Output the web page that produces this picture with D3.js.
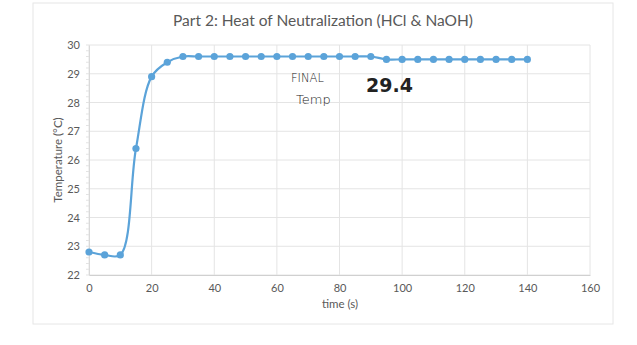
<html>
<title>Heat of Neutralization</title>
<script src="https://d3js.org/d3.v7.min.js"></script>
<style>
body { margin: 0; background: #fff; }
text { font-family: Lato, "Open Sans", sans-serif; }
</style>
<body>
<svg id="chart" width="637" height="345"></svg>
<script>

var times = [0, 5, 10, 15, 20, 25, 30, 35, 40, 45, 50, 55, 60, 65, 70, 75, 80, 85, 90,
	95, 100, 105, 110, 115, 120, 125, 130, 135, 140];
var temps = [22.8, 22.7, 22.7, 26.4, 28.9, 29.4, 29.6, 29.6, 29.6, 29.6, 29.6, 29.6, 29.6,
	29.6, 29.6, 29.6, 29.6, 29.6, 29.6, 29.5, 29.5, 29.5, 29.5, 29.5, 29.5, 29.5, 29.5, 29.5, 29.5];
var xTicks = [0, 20, 40, 60, 80, 100, 120, 140, 160];
var yTicks = [22, 23, 24, 25, 26, 27, 28, 29, 30];

var svg = d3.select("#chart");
var grey = "#595959";

// chart frame
svg.append("rect").attr("x", 33).attr("y", 3).attr("width", 580).attr("height", 321)
	.attr("fill", "#fff").attr("stroke", "#e6e6e6");

var x = d3.scaleLinear().domain([0, 160]).range([89, 590]);
var y = d3.scaleLinear().domain([22, 30]).range([275, 45]);

// gridlines
svg.selectAll("line.hgrid").data(yTicks).enter().append("line").attr("class", "hgrid")
	.attr("x1", x(0)).attr("x2", x(160))
	.attr("y1", function (d) { return y(d); }).attr("y2", function (d) { return y(d); })
	.attr("stroke", "#e4e4e4").attr("stroke-width", 1);
svg.selectAll("line.vgrid").data(xTicks).enter().append("line").attr("class", "vgrid")
	.attr("y1", y(22)).attr("y2", y(30))
	.attr("x1", function (d) { return x(d); }).attr("x2", function (d) { return x(d); })
	.attr("stroke", "#e4e4e4").attr("stroke-width", 1);

// axes
var xAxis = svg.append("g").attr("transform", "translate(0," + y(22) + ")")
	.call(d3.axisBottom(x).tickValues(xTicks).tickSize(0).tickPadding(9));
xAxis.select(".domain").attr("stroke", "#d0d0d0");
xAxis.selectAll("text").attr("fill", grey).style("font-size", "11px");

var yAxis = svg.append("g").attr("transform", "translate(" + x(0) + ",0)")
	.call(d3.axisLeft(y).tickValues(yTicks).tickSize(0).tickPadding(9));
yAxis.select(".domain").attr("stroke", "#d9d9d9");
yAxis.selectAll("text").attr("fill", grey).style("font-size", "11px");

// minor ticks on the value axis
var minor = d3.range(22, 30.001, 0.2);
svg.selectAll("line.minor").data(minor).enter().append("line").attr("class", "minor")
	.attr("x1", x(0) - 3).attr("x2", x(0))
	.attr("y1", function (d) { return y(d); }).attr("y2", function (d) { return y(d); })
	.attr("stroke", "#e3e3e3");

// series
var pts = times.map(function (t, i) { return [t, temps[i]]; });
var line = d3.line()
	.x(function (d) { return x(d[0]); })
	.y(function (d) { return y(d[1]); })
	.curve(d3.curveCatmullRom.alpha(0.5));
svg.append("path").datum(pts).attr("d", line)
	.attr("fill", "none").attr("stroke", "#5ba3d9").attr("stroke-width", 2.2);
svg.selectAll("circle").data(pts).enter().append("circle")
	.attr("cx", function (d) { return x(d[0]); })
	.attr("cy", function (d) { return y(d[1]); })
	.attr("r", 3.6).attr("fill", "#5ba3d9");

// titles
svg.append("text").attr("x", 323).attr("y", 26).attr("text-anchor", "middle")
	.attr("fill", grey).style("font-size", "15.5px").text("Part 2: Heat of Neutralization (HCl & NaOH)");
svg.append("text").attr("x", 340).attr("y", 308).attr("text-anchor", "middle")
	.attr("fill", grey).style("font-size", "11.5px").text("time (s)");
svg.append("text").attr("transform", "translate(62,160) rotate(-90)").attr("text-anchor", "middle")
	.attr("fill", grey).style("font-size", "11.5px").text("Temperature (°C)");

// handwritten note
svg.append("text").attr("x", 291).attr("y", 82).attr("fill", "#222")
	.style("font-size", "11.5px").style("font-family", "'DejaVu Sans'").style("font-weight", "200")
	.text("FINAL");
svg.append("text").attr("x", 296).attr("y", 104).attr("fill", "#222")
	.style("font-size", "13px").style("font-family", "'DejaVu Sans'").style("font-weight", "200")
	.text("Temp");
svg.append("text").attr("x", 366).attr("y", 92).attr("fill", "#222")
	.style("font-size", "19px").style("font-family", "'DejaVu Sans'").style("font-weight", "bold")
	.text("29.4");

</script>
</body>
</html>
